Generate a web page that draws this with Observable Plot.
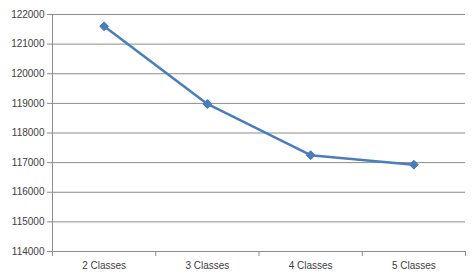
<!DOCTYPE html>
<html>
<head>
<meta charset="utf-8">
<script src="https://cdn.jsdelivr.net/npm/d3@7"></script>
<script src="https://cdn.jsdelivr.net/npm/@observablehq/plot@0.6"></script>
<style>
  html, body { margin: 0; padding: 0; background: #fff; }
  #chart svg { display: block; }
</style>
</head>
<body>
<div id="chart"></div>
<script>
const categories = ["2 Classes", "3 Classes", "4 Classes", "5 Classes"];
const values = [121600, 118980, 117250, 116930];
const yTicks = [114000, 115000, 116000, 117000, 118000, 119000, 120000, 121000, 122000];

const data = categories.map((c, i) => ({i, category: c, value: values[i]}));
const idx = categories.map((c, i) => i);
const boundaries = [-0.5, ...idx.map(i => i + 0.5)];

const chart = Plot.plot({
  width: 474,
  height: 280,
  marginLeft: 52,
  marginRight: 9,
  marginTop: 14,
  marginBottom: 29,
  style: {fontFamily: "'Liberation Sans', Arial, sans-serif", fontSize: "10px", color: "#404040", background: "#fff"},
  x: {type: "linear", domain: [-0.5, categories.length - 0.5]},
  y: {domain: [114000, 122000]},
  marks: [
    Plot.ruleY(yTicks, {stroke: "#8c8c8c", strokeWidth: 1, strokeOpacity: 1}),
    Plot.ruleX([-0.5], {stroke: "#8c8c8c", strokeWidth: 1}),
    Plot.axisY({ticks: yTicks, tickFormat: d => String(d), tickSize: 5, tickPadding: 3, stroke: "#8c8c8c", fill: "#404040", label: null}),
    Plot.axisX({ticks: boundaries, tickFormat: () => "", tickSize: 5, stroke: "#8c8c8c", label: null}),
    Plot.axisX({ticks: idx, tickFormat: i => categories[i], tickSize: 0, tickPadding: 10, fill: "#404040", label: null}),
    Plot.line(data, {x: "i", y: "value", stroke: "#4a7ebb", strokeWidth: 2.5}),
    Plot.dot(data, {x: "i", y: "value", symbol: "diamond2", r: 4, fill: "#4a7ebb", stroke: "#4a7ebb", strokeWidth: 1})
  ]
});
document.getElementById("chart").appendChild(chart);
</script>
</body>
</html>
